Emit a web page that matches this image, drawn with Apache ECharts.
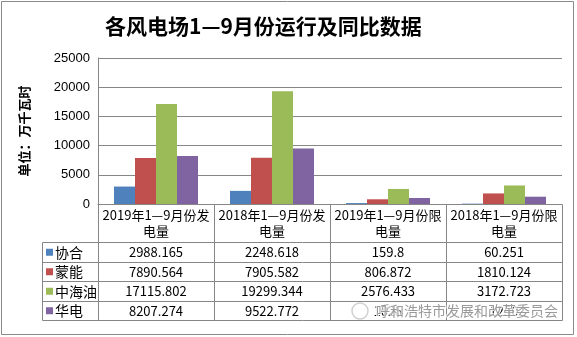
<!DOCTYPE html>
<html>
<head>
<meta charset="utf-8">
<script src="https://cdn.jsdelivr.net/npm/echarts@6/dist/echarts.min.js"></script>
<style>
  html, body { margin: 0; padding: 0; background: #fff; }
  #chart { width: 577px; height: 337px; }
</style>
</head>
<body>
<div id="chart"></div>
<script>
// 数据
const categories = [
  "2019年1—9月份发\n电量",
  "2018年1—9月份发\n电量",
  "2019年1—9月份限\n电量",
  "2018年1—9月份限\n电量",
];
const seriesNames = ["协合", "蒙能", "中海油", "华电"];
const xiehe = [2988.165, 2248.618, 159.8, 60.251];
const mengneng = [7890.564, 7905.582, 806.872, 1810.124];
const zhonghaiyou = [17115.802, 19299.344, 2576.433, 3172.723];
const huadian = [8207.274, 9522.772, 1025, 1250]; // 后两个被水印挡住，按柱高估
const yTicks = [0, 5000, 10000, 15000, 20000, 25000];

const colors = ["#4F81BD", "#C0504D", "#9BBB59", "#8064A2"];
const allSeries = [xiehe, mengneng, zhonghaiyou, huadian];

// 布局
const gridL = 98, gridR = 562, gridT = 58, gridB = 204;
const colW = (gridR - gridL) / categories.length;
const labelL = 42;
const headB = 242;
const rowH = 19.5;
const lineColor = "#868686";
const cjk = '"Noto Sans CJK SC", "Liberation Sans", sans-serif';

const chart = echarts.init(document.getElementById("chart"));

// 表格
const graphic = [];
const px = (v) => Math.round(v) + 0.5;
const addLine = (x1, y1, x2, y2) => {
  graphic.push({
    type: "line",
    shape: { x1: px(x1), y1: px(y1), x2: px(x2), y2: px(y2) },
    style: { stroke: lineColor, lineWidth: 1 },
    z: 10,
  });
};
const tableB = headB + rowH * seriesNames.length;
addLine(labelL, headB, gridR, headB);
seriesNames.forEach((n, i) => {
  addLine(labelL, headB + rowH * (i + 1), gridR, headB + rowH * (i + 1));
});
addLine(labelL, headB, labelL, tableB);
for (let c = 0; c <= categories.length; c++) {
  addLine(gridL + colW * c, gridB, gridL + colW * c, tableB);
}

// 表头
categories.forEach((cat, c) => {
  const lines = cat.split("\n");
  lines.forEach((t, k) => {
    graphic.push({
      type: "text",
      x: gridL + colW * c + colW / 2,
      y: 215 + k * 16,
      style: {
        text: t,
        font: "13px " + cjk,
        fill: "#000",
        align: "center",
        verticalAlign: "middle",
      },
      z: 10,
    });
  });
});

// 行
seriesNames.forEach((name, i) => {
  const cy = headB + rowH * i + rowH / 2 + 0.5;
  graphic.push({
    type: "rect",
    shape: { x: 46, y: cy - 3.5, width: 7, height: 7 },
    style: { fill: colors[i] },
    z: 10,
  });
  graphic.push({
    type: "text",
    x: 55,
    y: cy,
    style: {
      text: name,
      font: "14px " + cjk,
      fill: "#000",
      verticalAlign: "middle",
    },
    z: 10,
  });
  allSeries[i].forEach((v, c) => {
    graphic.push({
      type: "text",
      x: gridL + colW * c + colW / 2,
      y: cy,
      style: {
        text: String(v),
        font: "13px " + cjk,
        fill: "#000",
        align: "center",
        verticalAlign: "middle",
      },
      z: 10,
    });
  });
});

// 水印
graphic.push({
  type: "circle",
  shape: { cx: 360, cy: 311, r: 8 },
  style: { fill: "none", stroke: "#d0d0d0", lineWidth: 1.5 },
  z: 20,
});
graphic.push({
  type: "text",
  x: 376,
  y: 311,
  style: {
    text: "呼和浩特市发展和改革委员会",
    font: "14px " + cjk,
    fill: "#9a9a9a",
    stroke: "rgba(255,255,255,0.8)",
    lineWidth: 2,
    verticalAlign: "middle",
  },
  z: 20,
});

// 外框
graphic.push({
  type: "rect",
  shape: { x: 1.5, y: 1.5, width: 572, height: 333 },
  style: { fill: "none", stroke: "#898989", lineWidth: 1 },
  z: 30,
});

chart.setOption({
  animation: false,
  backgroundColor: "#fff",
  title: {
    text: "各风电场1—9月份运行及同比数据",
    left: 100,
    top: 11,
    textStyle: {
      fontFamily: cjk,
      fontSize: 21,
      fontWeight: "bold",
      color: "#000",
    },
  },
  grid: {
    left: gridL,
    right: 577 - gridR,
    top: gridT,
    bottom: 337 - gridB,
  },
  xAxis: {
    type: "category",
    data: categories,
    axisLine: { lineStyle: { color: lineColor } },
    axisTick: { show: false },
    axisLabel: { show: false },
  },
  yAxis: {
    type: "value",
    min: yTicks[0],
    max: yTicks[yTicks.length - 1],
    interval: yTicks[1] - yTicks[0],
    name: "单位：万千瓦时",
    nameLocation: "middle",
    nameRotate: 90,
    nameGap: 67,
    nameTextStyle: {
      fontFamily: cjk,
      fontSize: 13,
      fontWeight: "bold",
      color: "#000",
    },
    axisLine: { show: true, lineStyle: { color: lineColor } },
    axisTick: { show: false },
    axisLabel: {
      color: "#000",
      fontSize: 13,
      fontFamily: "Liberation Sans, sans-serif",
      margin: 8,
      formatter: (v) => String(v),
    },
    splitLine: { lineStyle: { color: lineColor } },
  },
  series: seriesNames.map((n, i) => ({
    name: n,
    type: "bar",
    data: allSeries[i],
    barWidth: 21,
    barGap: "0%",
    itemStyle: { color: colors[i] },
  })),
  graphic: graphic,
});
</script>
</body>
</html>
